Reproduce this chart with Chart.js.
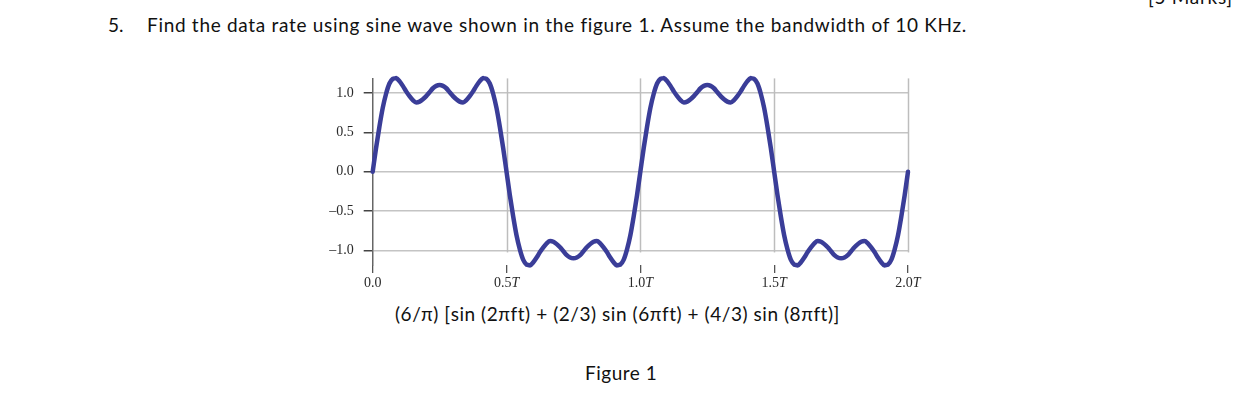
<!DOCTYPE html>
<html>
<head>
<meta charset="utf-8">
<script src="https://cdn.jsdelivr.net/npm/chart.js@4.4.1/dist/chart.umd.min.js"></script>
<style>
  html, body { margin: 0; padding: 0; background: #fff; }
  body { width: 1242px; height: 405px; position: relative; overflow: hidden; font-family: Lato, "Open Sans", sans-serif; color: #111; }
  .txt { position: absolute; white-space: nowrap; font-size: 19px; line-height: 1; }
  #chart-box { position: absolute; left: 310px; top: 60px; width: 620px; height: 240px; }
</style>
</head>
<body>
<div class="txt" style="left:1148px; top:-13px; letter-spacing:0.7px;">[5 Marks]</div>
<div class="txt" style="left:108px; top:15px;">5.</div>
<div class="txt" style="left:147px; top:15px; letter-spacing:0.7px;">Find the data rate using sine wave shown in the figure 1. Assume the bandwidth of 10 KHz.</div>
<div id="chart-box"><canvas id="wave-chart" width="620" height="240"></canvas></div>
<div class="txt" style="left:395px; top:304px; letter-spacing:0.55px;">(6/π) [sin (2πft) + (2/3) sin (6πft) + (4/3) sin (8πft)]</div>
<div class="txt" style="left:585px; top:363px; letter-spacing:0.5px;">Figure 1</div>

<script>
// sample spacing along the time axis, in units of T
const SAMPLE_STEP_T = 0.0125;

// amplitude, one value per sample from 0.0T to 2.0T
const amplitude = [
  0.00, 0.30, 0.57, 0.81, 0.99, 1.12, 1.18, 1.19, 1.15, 1.09,
  1.02, 0.96, 0.91, 0.88, 0.89, 0.92, 0.96, 1.01, 1.06, 1.09,
  1.10, 1.09, 1.06, 1.01, 0.96, 0.92, 0.89, 0.88, 0.91, 0.96,
  1.02, 1.09, 1.15, 1.19, 1.18, 1.12, 0.99, 0.81, 0.57, 0.30,
  0.00, -0.30, -0.57, -0.81, -0.99, -1.12, -1.18, -1.19, -1.15, -1.09,
  -1.02, -0.96, -0.91, -0.88, -0.89, -0.92, -0.96, -1.01, -1.06, -1.09,
  -1.10, -1.09, -1.06, -1.01, -0.96, -0.92, -0.89, -0.88, -0.91, -0.96,
  -1.02, -1.09, -1.15, -1.19, -1.18, -1.12, -0.99, -0.81, -0.57, -0.30,
  0.00, 0.30, 0.57, 0.81, 0.99, 1.12, 1.18, 1.19, 1.15, 1.09,
  1.02, 0.96, 0.91, 0.88, 0.89, 0.92, 0.96, 1.01, 1.06, 1.09,
  1.10, 1.09, 1.06, 1.01, 0.96, 0.92, 0.89, 0.88, 0.91, 0.96,
  1.02, 1.09, 1.15, 1.19, 1.18, 1.12, 0.99, 0.81, 0.57, 0.30,
  0.00, -0.30, -0.57, -0.81, -0.99, -1.12, -1.18, -1.19, -1.15, -1.09,
  -1.02, -0.96, -0.91, -0.88, -0.89, -0.92, -0.96, -1.01, -1.06, -1.09,
  -1.10, -1.09, -1.06, -1.01, -0.96, -0.92, -0.89, -0.88, -0.91, -0.96,
  -1.02, -1.09, -1.15, -1.19, -1.18, -1.12, -0.99, -0.81, -0.57, -0.30,
  0.00
];

const xTickValues = [0, 0.5, 1, 1.5, 2];
const xTickNumbers = ['0.0', '0.5', '1.0', '1.5', '2.0'];
const xTickUnits = ['', 'T', 'T', 'T', 'T'];
const yTickValues = [-1, -0.5, 0, 0.5, 1];
const yTickLabels = ['\u20131.0', '\u20130.5', '0.0', '0.5', '1.0'];

const LABEL_FONT = 'Liberation Serif, DejaVu Serif, serif';
const LABEL_SIZE = 14;
const WAVE_COLOR = '#3a3d98';

// vertical grid lines stop at the -1.0 line, like the figure
const verticalGrid = {
  id: 'verticalGrid',
  beforeDatasetsDraw(chart) {
    const { ctx, chartArea, scales } = chart;
    const yEnd = scales.y.getPixelForValue(-1) + 2;
    ctx.save();
    ctx.strokeStyle = '#bdbdbd';
    ctx.lineWidth = 1.5;
    xTickValues.slice(1).forEach(v => {
      const x = Math.round(scales.x.getPixelForValue(v)) + 0.5;
      ctx.beginPath();
      ctx.moveTo(x, chartArea.top);
      ctx.lineTo(x, yEnd);
      ctx.stroke();
    });
    ctx.restore();
  }
};

// x labels: number upright, T in italic
const xLabels = {
  id: 'xLabels',
  afterDraw(chart) {
    const { ctx, chartArea, scales } = chart;
    const y = chartArea.bottom + 18;
    const upright = `${LABEL_SIZE}px ${LABEL_FONT}`;
    const italic = `italic ${LABEL_SIZE}px ${LABEL_FONT}`;
    ctx.save();
    ctx.fillStyle = '#2a2a2a';
    ctx.textBaseline = 'middle';
    ctx.textAlign = 'left';
    xTickValues.forEach((v, i) => {
      ctx.font = upright;
      const wNum = ctx.measureText(xTickNumbers[i]).width;
      ctx.font = italic;
      const wUnit = ctx.measureText(xTickUnits[i]).width;
      const x = scales.x.getPixelForValue(v) - (wNum + wUnit) / 2;
      ctx.font = upright;
      ctx.fillText(xTickNumbers[i], x, y);
      ctx.font = italic;
      ctx.fillText(xTickUnits[i], x + wNum, y);
    });
    ctx.restore();
  }
};

new Chart(document.getElementById('wave-chart'), {
  type: 'line',
  data: {
    datasets: [{
      data: amplitude.map((y, i) => ({ x: i * SAMPLE_STEP_T, y })),
      borderColor: WAVE_COLOR,
      borderWidth: 4.5,
      pointRadius: 0,
      cubicInterpolationMode: 'monotone',
      borderJoinStyle: 'round',
      borderCapStyle: 'round',
      fill: false,
      clip: false,
    }]
  },
  options: {
    responsive: false,
    animation: false,
    layout: { padding: { top: 15, right: 22, left: 0, bottom: 0 } },
    plugins: { legend: { display: false }, tooltip: { enabled: false } },
    scales: {
      x: {
        type: 'linear',
        min: 0,
        max: 2,
        afterBuildTicks: s => { s.ticks = xTickValues.map(value => ({ value })); },
        afterFit: s => { s.height = 35; },
        border: { display: false },
        grid: { drawOnChartArea: false, drawTicks: true, tickLength: 8, tickColor: '#555', lineWidth: 1.3 },
        ticks: { color: 'rgba(0,0,0,0)', font: { size: LABEL_SIZE, family: LABEL_FONT } },
      },
      y: {
        min: -1.185,
        max: 1.185,
        afterBuildTicks: s => { s.ticks = yTickValues.map(value => ({ value })); },
        afterFit: s => { s.width = 62.7; },
        border: { display: true, color: '#666', width: 1.5 },
        grid: { color: '#c4c4c4', lineWidth: 1.5, tickLength: 9, tickColor: '#444' },
        ticks: {
          color: '#2a2a2a',
          padding: 10,
          font: { size: LABEL_SIZE, family: LABEL_FONT },
          callback: v => yTickLabels[yTickValues.indexOf(v)],
        },
      },
    },
  },
  plugins: [verticalGrid, xLabels],
});
</script>
</body>
</html>
